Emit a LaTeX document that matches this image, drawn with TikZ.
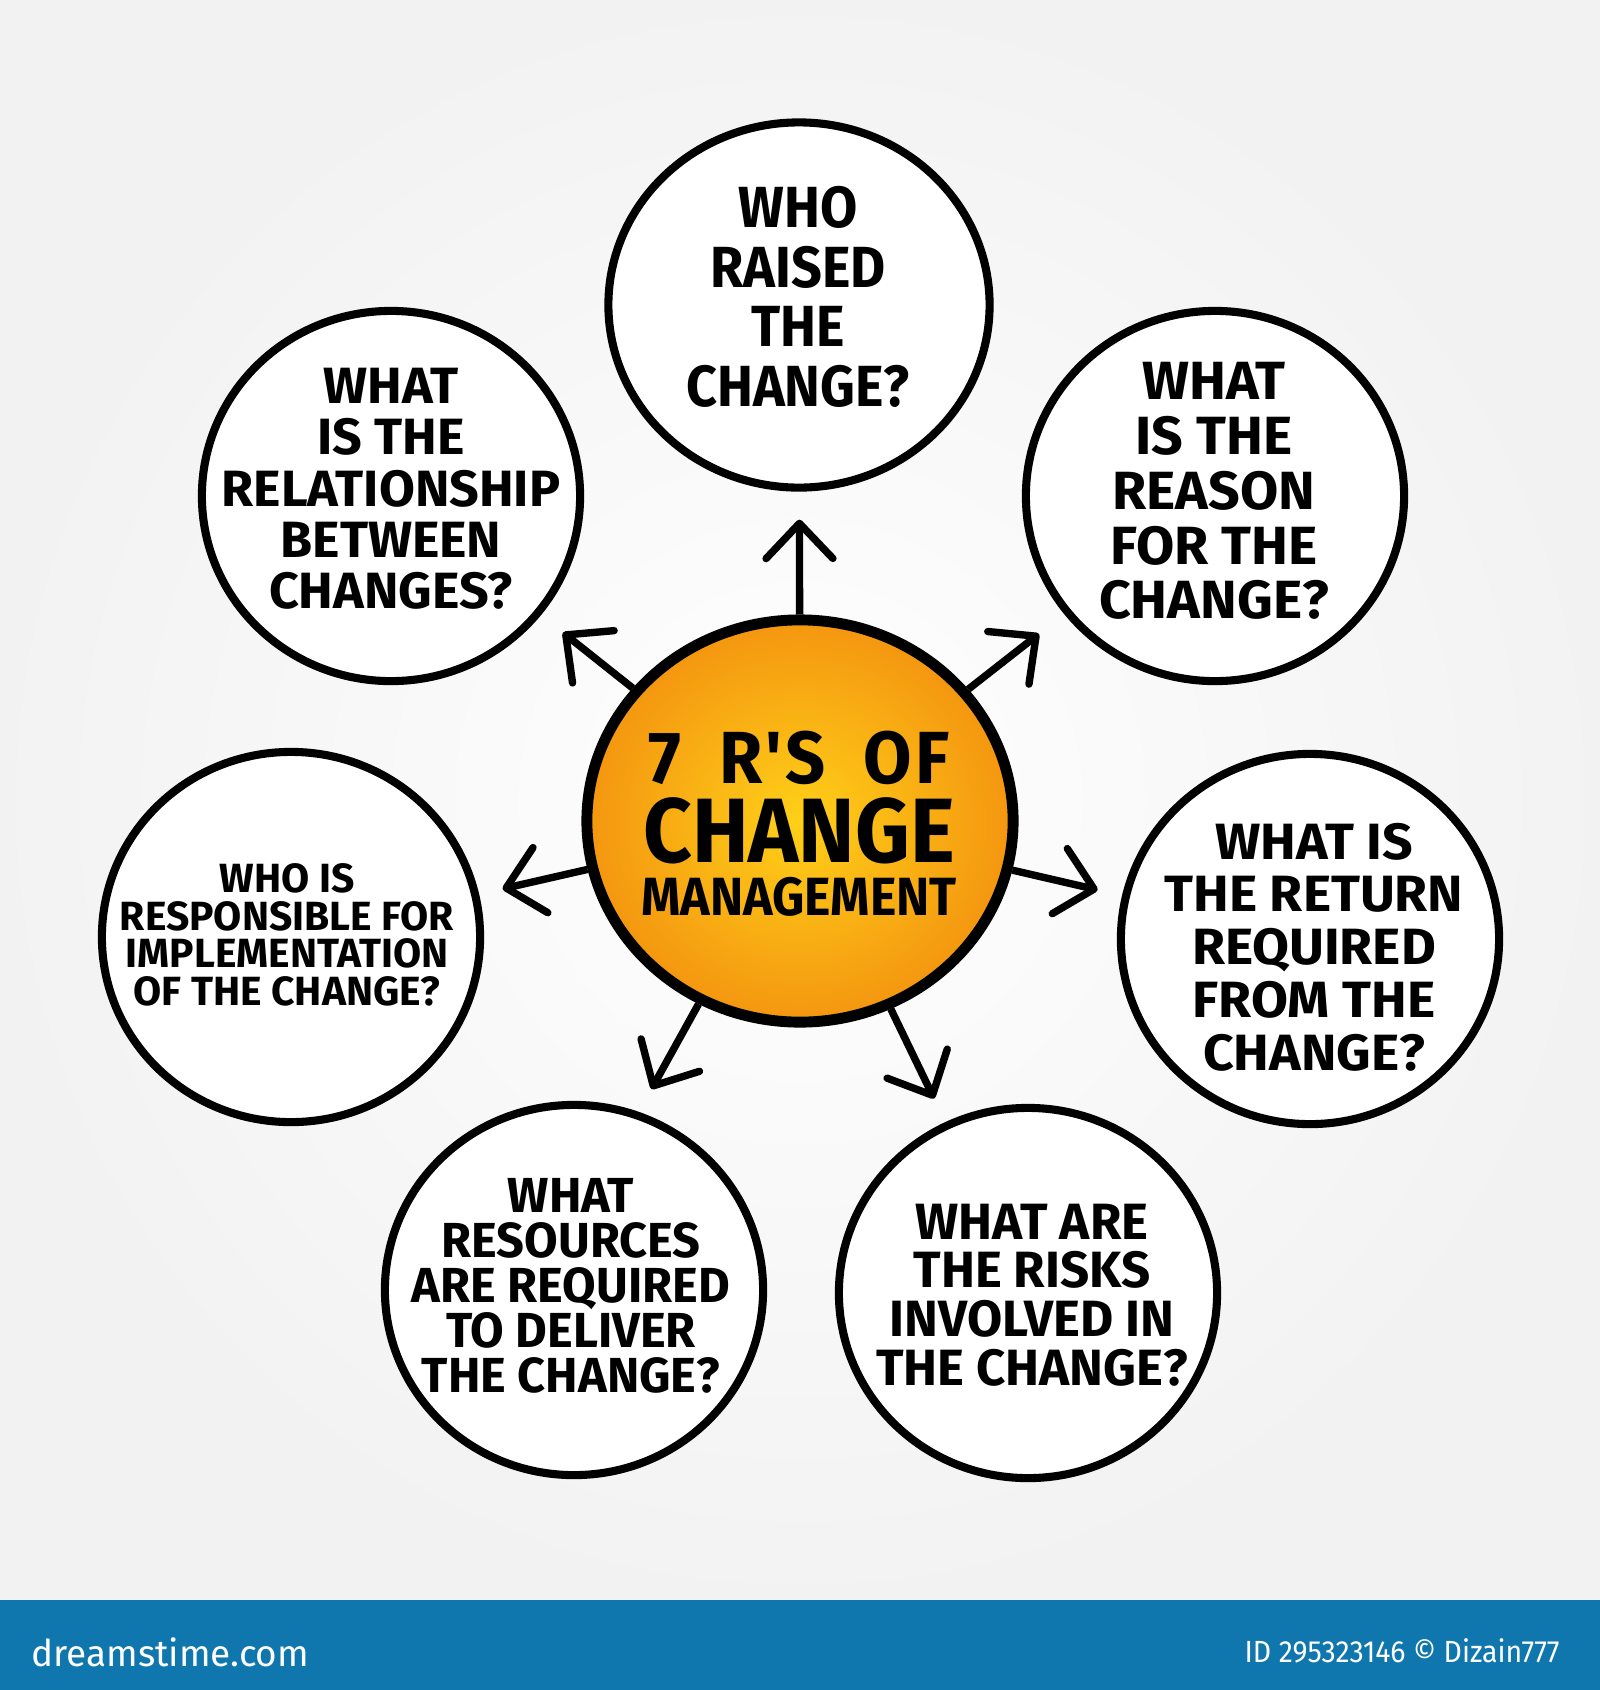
\documentclass[tikz,border=0pt]{standalone}
\usepackage{fontspec}
\usetikzlibrary{shapes.geometric,arrows.meta}
\setmainfont{Fira Sans}
\newfontfamily\handfont{Fira Sans}
% size, line skip, horizontal stretch
\newcommand{\qsize}[3]{\handfont\bfseries\fontsize{#1}{#2}\selectfont\addfontfeature{FakeStretch=#3}}
\definecolor{barblue}{RGB}{16,119,174}
\definecolor{coreinner}{RGB}{255,208,24}
\definecolor{coreouter}{RGB}{244,150,16}

\tikzset{
    question/.style={ellipse, draw=black, line width=2.3pt, fill=white,
        minimum width=3.78cm, minimum height=3.7cm, inner sep=0pt},
    qtext/.style={align=center, inner sep=0pt, text=black},
    link/.style={line width=2.1pt, -{Straight Barb[length=10pt, width=19pt, round]}},
}

\begin{document}
\begin{tikzpicture}[x=0.01cm, y=-0.01cm]
    % Background and footer bar
    \useasboundingbox (0,0) rectangle (1600,1690);
    \shade[inner color=white, outer color=black!5] (0,0) rectangle (1600,1600);
    \fill[barblue] (0,1600) rectangle (1600,1690);
    \node[anchor=base west, text=white, font=\fontsize{10.5}{11}\selectfont] (site) at (19,1666) {dreamstime.com};
    \node[anchor=base east, text=white, font=\handfont\fontsize{8.7}{10}\selectfont\addfontfeature{FakeStretch=0.93}] (credit) at (1572,1662) {ID 295323146 © Dizain777};

    % Question bubbles
    \node[question, minimum width=3.81cm, minimum height=3.65cm] (raised) at (799,305) {};
    \node[question] (reason) at (1215,496) {};
    \node[question] (return) at (1310,939) {};
    \node[question] (risks) at (1028,1293) {};
    \node[question] (resources) at (574,1290) {};
    \node[question] (responsible) at (291,937) {};
    \node[question] (relationship) at (391,496) {};

    \node[qtext, font=\qsize{16.5}{16.9}{0.93}] (raisedtext) at (798,297) {WHO\\RAISED\\THE\\CHANGE?};
    \node[qtext, font=\qsize{15.3}{15.6}{1.03}] (reasontext) at (1214,491) {WHAT\\IS THE\\REASON\\FOR THE\\CHANGE?};
    \node[qtext, font=\qsize{14.5}{15}{1.05}] (returntext) at (1314,947) {WHAT IS\\THE RETURN\\REQUIRED\\FROM THE\\CHANGE?};
    \node[qtext, font=\qsize{14.5}{13.8}{1.0}] (riskstext) at (1032,1295) {WHAT ARE\\THE RISKS\\INVOLVED IN\\THE CHANGE?};
    \node[qtext, font=\qsize{14}{12.8}{0.99}] (resourcestext) at (571,1286) {WHAT\\RESOURCES\\ARE REQUIRED\\TO DELIVER\\THE CHANGE?};
    \node[qtext, font=\qsize{11.6}{10.7}{1.0}] (responsibletext) at (287,935) {WHO IS\\RESPONSIBLE FOR\\IMPLEMENTATION\\OF THE CHANGE?};
    \node[qtext, font=\qsize{14.5}{14.6}{1.02}] (relationshiptext) at (391,489) {WHAT\\IS THE\\RELATIONSHIP\\BETWEEN\\CHANGES?};

    % Central topic
    \node[ellipse, draw=black, line width=3.1pt, inner sep=0pt, minimum width=4.26cm, minimum height=4.02cm,
        shading=radial, inner color=coreinner, outer color=coreouter] (core) at (800,821) {};
    \node[qtext, font=\qsize{10}{0}{0.93}] (coretext) at (799,824) {%
        {\qsize{21}{0}{0.95}\addfontfeature{LetterSpace=4}7\hspace{0.25em} R'S\hspace{0.25em} OF}\\[2.5pt]
        {\qsize{26}{0}{0.93}CHANGE}\\[3pt]
        {\qsize{15.3}{0}{0.93}MANAGEMENT}};

    % Arrows out of the centre
    \draw[link, shorten >=0.28cm] (core) -- (raised);
    \draw[link, shorten >=0.32cm] (core) -- (reason);
    \draw[link, shorten >=0.25cm] (core) -- (return);
    \draw[link, shorten >=0.26cm] (core) -- (risks);
    \draw[link, shorten >=0.26cm] (core) -- (resources.70);
    \draw[link, shorten >=0.24cm] (core) -- (responsible);
    \draw[link, shorten >=0.28cm] (core) -- (relationship);
\end{tikzpicture}
\end{document}
